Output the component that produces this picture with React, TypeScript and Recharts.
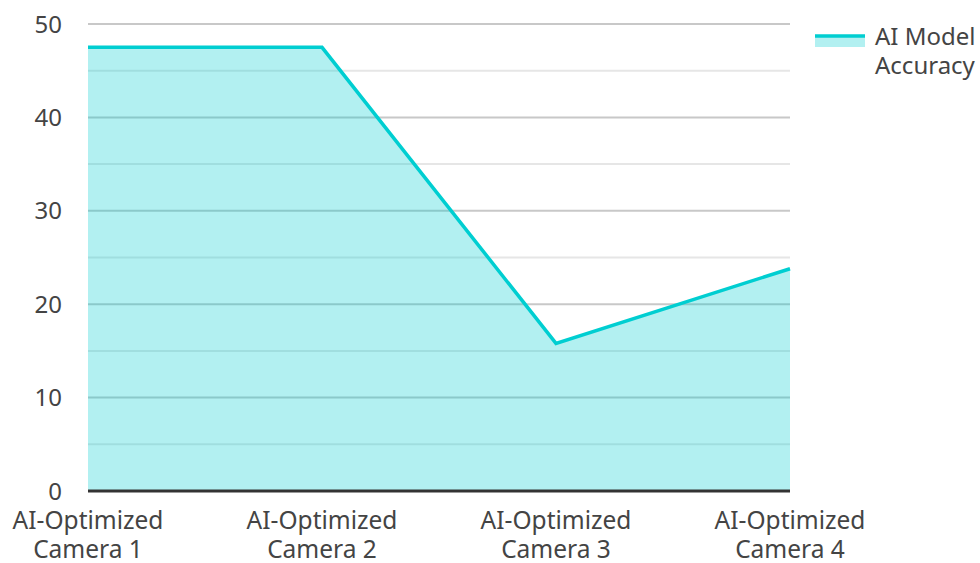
import React from 'react';
import { AreaChart, Area, XAxis, YAxis, CartesianGrid, Legend } from 'recharts';

const categories = ['AI-Optimized Camera 1', 'AI-Optimized Camera 2', 'AI-Optimized Camera 3', 'AI-Optimized Camera 4'];
const accuracy = [47.5, 47.5, 15.8, 23.8];
const yTicks = [0, 10, 20, 30, 40, 50];
const minorTicks = [5, 15, 25, 35, 45];
const seriesName = 'AI Model Accuracy';

const data = categories.map((c, i) => ({ name: c, value: accuracy[i] }));

const FONT = '"Noto Sans", "Open Sans", sans-serif';
const TEAL = '#00CED1';
const FS = 24;

const XTick = (props: any) => {
  const { x, y, payload } = props;
  const words = String(payload.value).split(' ');
  const l1 = words[0];
  const l2 = words.slice(1).join(' ');
  return (
    <g transform={`translate(${x},${y})`}>
      <text x={0} y={30} textAnchor="middle" fill="#444" fontSize={24.5} fontFamily={FONT}>{l1}</text>
      <text x={0} y={59} textAnchor="middle" fill="#444" fontSize={24.5} fontFamily={FONT}>{l2}</text>
    </g>
  );
};

const LegendContent = () => (
  <svg width={165} height={75} style={{ display: 'block' }}>
    <rect x={0} y={22} width={50} height={10} fill={TEAL} fillOpacity={0.3} />
    <line x1={0} x2={50} y1={21} y2={21} stroke={TEAL} strokeWidth={3.5} />
    <text x={60} y={30} fill="#444" fontSize={FS} fontFamily={FONT}>AI Model</text>
    <text x={60} y={59} fill="#444" fontSize={FS} fontFamily={FONT}>Accuracy</text>
  </svg>
);

export default function App() {
  return (
    <div style={{ position: 'absolute', left: 0, top: 0 }}>
      <AreaChart width={980} height={563} data={data} margin={{ top: 24, right: 190, bottom: 0, left: 0 }}>
        <CartesianGrid vertical={false} horizontalValues={minorTicks} stroke="#e6e6e6" strokeWidth={2} />
        <CartesianGrid vertical={false} stroke="#c8c8c8" strokeWidth={2} />
        <XAxis dataKey="name" tick={<XTick />} tickLine={false} axisLine={{ stroke: '#333', strokeWidth: 3 }} height={72} interval={0} />
        <YAxis domain={[0, 50]} ticks={yTicks} tickLine={false} axisLine={false} width={88} tickSize={0} tickMargin={26}
          tick={{ fill: '#444', fontSize: FS, fontFamily: FONT }} />
        <Legend layout="horizontal" align="center" verticalAlign="middle" content={<LegendContent />}
          wrapperStyle={{ position: 'absolute', left: 815, top: 15, width: 165, height: 75 }} />
        <Area type="linear" dataKey="value" name={seriesName} stroke={TEAL} strokeWidth={3.5} fill={TEAL} fillOpacity={0.3} isAnimationActive={false} />
      </AreaChart>
    </div>
  );
}
